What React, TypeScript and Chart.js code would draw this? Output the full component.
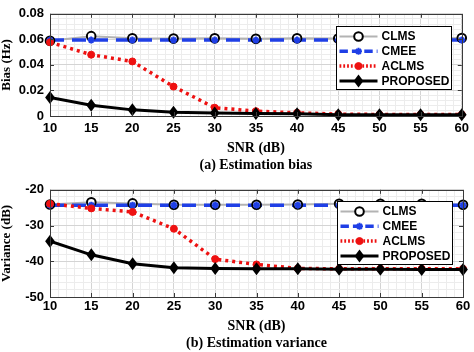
import React, { useEffect, useRef } from "react";
import { Chart, registerables } from "chart.js";

Chart.register(...registerables);

const snr = [10, 15, 20, 25, 30, 35, 40, 45, 50, 55, 60];
const seriesNames = ["CLMS", "CMEE", "ACLMS", "PROPOSED"];

const biasCLMS = [0.0589, 0.0625, 0.0608, 0.0606, 0.0608, 0.0604, 0.0608, 0.0606, 0.0608, 0.0608, 0.0611];
const biasCMEE = [0.0594, 0.0594, 0.0594, 0.0594, 0.0594, 0.0594, 0.0594, 0.0594, 0.0594, 0.0594, 0.0594];
const biasACLMS = [0.0577, 0.048, 0.0427, 0.023, 0.0065, 0.0038, 0.0025, 0.0015, 0.0012, 0.0012, 0.0012];
const biasPROPOSED = [0.0145, 0.0085, 0.0048, 0.003, 0.0024, 0.002, 0.0018, 0.001, 0.001, 0.001, 0.001];

const varCLMS = [-24.1, -23.5, -23.8, -24.2, -24.2, -24.2, -24.1, -23.9, -23.9, -23.9, -24.2];
const varCMEE = [-24.3, -24.3, -24.3, -24.3, -24.3, -24.3, -24.3, -24.3, -24.3, -24.3, -24.3];
const varACLMS = [-23.9, -25.2, -26.2, -30.9, -39.4, -40.9, -42.0, -42.1, -42.1, -42.1, -42.1];
const varPROPOSED = [-34.4, -38.2, -40.7, -41.8, -42.0, -42.1, -42.1, -42.2, -42.2, -42.3, -42.3];

const TICK_FONT = { family: "'Liberation Sans', Arial, sans-serif", size: 13, weight: "bold" as const };
const TITLE_FONT = { family: "'Liberation Serif', 'Times New Roman', serif", size: 14, weight: "bold" as const };

const styles = [
  { color: "#b3b3b3", width: 2, dash: [] as number[], marker: "circle", mSize: 4.3, mFill: "#ffffff", mStroke: "#000000", mLine: 2 },
  { color: "#1f3fe6", width: 3.5, dash: [14, 8], marker: "star", mSize: 3.5, mFill: "#1f3fe6", mStroke: "#1f3fe6", mLine: 2 },
  { color: "#ee1111", width: 3.5, dash: [3, 4], marker: "circle", mSize: 3.5, mFill: "#ee1111", mStroke: "#ee1111", mLine: 1 },
  { color: "#000000", width: 3, dash: [] as number[], marker: "rectRot", mSize: 6.5, mFill: "#000000", mStroke: "#000000", mLine: 1 },
];

function drawMarker(ctx: CanvasRenderingContext2D, st: any, x: number, y: number) {
  ctx.save();
  ctx.setLineDash([]);
  ctx.fillStyle = st.mFill;
  ctx.strokeStyle = st.mStroke;
  ctx.lineWidth = st.mLine;
  ctx.beginPath();
  if (st.marker === "circle") {
    ctx.arc(x, y, st.mSize, 0, Math.PI * 2);
    ctx.fill();
    ctx.stroke();
  } else if (st.marker === "rectRot") {
    const r = st.mSize;
    ctx.moveTo(x, y - r);
    ctx.lineTo(x + r * 0.75, y);
    ctx.lineTo(x, y + r);
    ctx.lineTo(x - r * 0.75, y);
    ctx.closePath();
    ctx.fill();
  } else {
    const r = st.mSize;
    ctx.moveTo(x - r, y);
    ctx.lineTo(x + r, y);
    ctx.moveTo(x, y - r);
    ctx.lineTo(x, y + r);
    ctx.moveTo(x - r * 0.7, y - r * 0.7);
    ctx.lineTo(x + r * 0.7, y + r * 0.7);
    ctx.moveTo(x - r * 0.7, y + r * 0.7);
    ctx.lineTo(x + r * 0.7, y - r * 0.7);
    ctx.stroke();
  }
  ctx.restore();
}

const framePlugin = {
  id: "frameAndLegend",
  afterDatasetsDraw(chart: any) {
    const ctx: CanvasRenderingContext2D = chart.ctx;
    chart.data.datasets.forEach((ds: any, i: number) => {
      const meta = chart.getDatasetMeta(i);
      const st = styles[i];
      meta.data.forEach((pt: any) => drawMarker(ctx, st, pt.x, pt.y));
    });
  },
  afterDraw(chart: any) {
    const ctx: CanvasRenderingContext2D = chart.ctx;
    const a = chart.chartArea;
    ctx.save();
    ctx.strokeStyle = "#3a3a3a";
    ctx.lineWidth = 1;
    ctx.strokeRect(Math.round(a.left) + 0.5, Math.round(a.top) + 0.5, Math.round(a.right - a.left), Math.round(a.bottom - a.top));
    const xs = chart.scales.x;
    const ys = chart.scales.y;
    ctx.beginPath();
    snr.forEach((v) => {
      const px = Math.round(xs.getPixelForValue(v)) + 0.5;
      ctx.moveTo(px, a.bottom);
      ctx.lineTo(px, a.bottom - 4);
      ctx.moveTo(px, a.top);
      ctx.lineTo(px, a.top + 4);
    });
    const major = chart.options.plugins.frameAndLegend.majorY as number[];
    major.forEach((v) => {
      const py = Math.round(ys.getPixelForValue(v)) + 0.5;
      ctx.moveTo(a.left, py);
      ctx.lineTo(a.left + 4, py);
      ctx.moveTo(a.right, py);
      ctx.lineTo(a.right - 4, py);
    });
    ctx.stroke();

    // legend box
    const w = 115;
    const h = 63;
    const bx = Math.round(a.right - 11 - w) + 0.5;
    const by = Math.round(a.top + chart.options.plugins.frameAndLegend.legendTop) + 0.5;
    ctx.fillStyle = "#ffffff";
    ctx.fillRect(bx, by, w, h);
    ctx.strokeStyle = "#000000";
    ctx.lineWidth = 1;
    ctx.strokeRect(bx, by, w, h);
    ctx.font = "bold 12px 'Liberation Sans', Arial, sans-serif";
    ctx.textBaseline = "middle";
    ctx.fillStyle = "#000000";
    chart.data.datasets.forEach((ds: any, i: number) => {
      const st = styles[i];
      const ry = by + 10 + i * 14.8;
      ctx.save();
      ctx.strokeStyle = st.color;
      ctx.lineWidth = st.width;
      ctx.setLineDash(st.dash.length ? [st.dash[0] * 0.6, st.dash[1] * 0.5] : []);
      ctx.beginPath();
      ctx.moveTo(bx + 3, ry);
      ctx.lineTo(bx + 41, ry);
      ctx.stroke();
      ctx.restore();
      drawMarker(ctx, st, bx + 22, ry);
      ctx.fillStyle = "#000000";
      ctx.fillText(ds.label, bx + 45, ry + 0.5);
    });
    ctx.restore();
  },
};

function makeConfig(
  values: number[][],
  yMin: number,
  yMax: number,
  yStep: number,
  yMajorEvery: number,
  yLabel: string,
  caption: string,
  padTop: number,
  xHeight: number,
  tickPad: number,
  titlePadBottom: number,
  legendTop: number,
  fmt: (v: number) => string
): any {
  const majorY: number[] = [];
  for (let k = 0; k * yStep * yMajorEvery <= yMax - yMin + 1e-9; k++) majorY.push(yMin + k * yStep * yMajorEvery);
  const isMajorY = (v: number) => Math.abs(Math.round((v - yMin) / yStep)) % yMajorEvery === 0;
  const datasets = values.map((vals, i) => {
    const st = styles[i];
    return {
      label: seriesNames[i],
      data: vals.map((v, j) => ({ x: snr[j], y: v })),
      borderColor: st.color,
      borderWidth: st.width,
      borderDash: st.dash,
      pointRadius: 0,
      pointHoverRadius: 0,
      fill: false,
      tension: 0,
      order: 4 - i,
    };
  });
  return {
    type: "line",
    data: { datasets },
    options: {
      animation: false,
      responsive: false,
      maintainAspectRatio: false,
      events: [],
      layout: { padding: { top: padTop, right: 11, left: 0, bottom: 0 } },
      plugins: {
        legend: { display: false },
        tooltip: { enabled: false },
        frameAndLegend: { majorY, legendTop },
      },
      scales: {
        x: {
          type: "linear",
          min: 10,
          max: 60,
          afterFit: (s: any) => {
            s.height = xHeight;
          },
          ticks: {
            stepSize: 1,
            autoSkip: false,
            maxRotation: 0,
            padding: tickPad,
            color: "#000",
            font: TICK_FONT,
            callback: (v: number) => (Math.round(v) % 5 === 0 ? String(Math.round(v)) : ""),
          },
          grid: {
            drawTicks: false,
            color: (c: any) => (c.tick && Math.round(c.tick.value) % 5 === 0 ? "#d4d4d4" : "#ececec"),
            lineWidth: 1,
          },
          border: { display: false },
          title: {
            display: true,
            text: ["SNR (dB)", caption],
            color: "#000",
            font: { ...TITLE_FONT, lineHeight: "17px" },
            padding: { top: 0, bottom: titlePadBottom },
          },
        },
        y: {
          type: "linear",
          min: yMin,
          max: yMax,
          afterFit: (s: any) => {
            s.width = 50;
          },
          ticks: {
            stepSize: yStep,
            autoSkip: false,
            padding: 6,
            color: "#000",
            font: TICK_FONT,
            callback: (v: number) => (isMajorY(v) ? fmt(v) : ""),
          },
          grid: {
            drawTicks: false,
            color: (c: any) => (c.tick && isMajorY(c.tick.value) ? "#d4d4d4" : "#ececec"),
            lineWidth: 1,
          },
          border: { display: false },
          title: {
            display: true,
            text: yLabel,
            color: "#000",
            font: { ...TITLE_FONT, size: 13 },
            padding: { top: -1, bottom: 0 },
          },
        },
      },
    },
    plugins: [framePlugin],
  };
}

export default function App() {
  const topRef = useRef<HTMLCanvasElement | null>(null);
  const botRef = useRef<HTMLCanvasElement | null>(null);

  useEffect(() => {
    const c1 = new Chart(
      topRef.current as HTMLCanvasElement,
      makeConfig(
        [biasCLMS, biasCMEE, biasACLMS, biasPROPOSED],
        0,
        0.08,
        0.004,
        5,
        "Bias (Hz)",
        "(a) Estimation bias",
        6,
        60,
        5,
        2,
        12,
        (v) => (Math.abs(v) < 1e-9 ? "0" : v.toFixed(2))
      )
    );
    const c2 = new Chart(
      botRef.current as HTMLCanvasElement,
      makeConfig(
        [varCLMS, varCMEE, varACLMS, varPROPOSED],
        -50,
        -20,
        2,
        5,
        "Variance (dB)",
        "(b) Estimation variance",
        11,
        55,
        2,
        0,
        11,
        (v) => String(Math.round(v))
      )
    );
    return () => {
      c1.destroy();
      c2.destroy();
    };
  }, []);

  return (
    <div style={{ position: "fixed", left: 0, top: 0, width: 474, height: 352, background: "#fff" }}>
      <canvas ref={topRef} width={474} height={176} style={{ position: "absolute", left: 0, top: 0, width: 474, height: 176 }} />
      <canvas ref={botRef} width={474} height={176} style={{ position: "absolute", left: 0, top: 176, width: 474, height: 176 }} />
    </div>
  );
}
